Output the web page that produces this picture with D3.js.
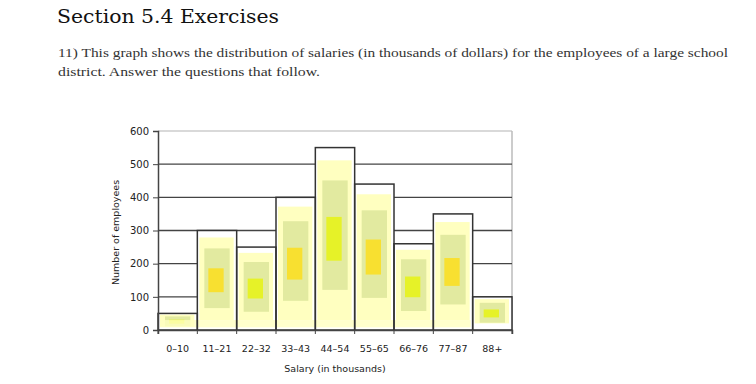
<!DOCTYPE html>
<html><head><meta charset="utf-8">
<script src="https://cdn.jsdelivr.net/npm/d3@7"></script>
<style>body{margin:0;background:#fff}svg{display:block}</style>
</head><body>
<svg id="c" width="756" height="384"></svg>
<script>
const categories = ["0–10","11–21","22–32","33–43","44–54","55–65","66–76","77–87","88+"];
const employees = [50,300,250,400,550,440,260,350,100];
const yTicks = [0,100,200,300,400,500,600];
const titleText = "Section 5.4 Exercises";
const questionLines = ["11) This graph shows the distribution of salaries (in thousands of dollars) for the employees of a large school",
  "district.  Answer the questions that follow."];
const xTitle = "Salary (in thousands)";
const yTitle = "Number of employees";

const svg = d3.select("#c");
svg.append("text").attr("x",57).attr("y",23).attr("font-family","'DejaVu Serif',serif")
  .attr("font-size",19).attr("fill","#111").attr("textLength",222).attr("lengthAdjust","spacingAndGlyphs").text(titleText);
const lineLens = [670, 262];
questionLines.forEach((t,i)=>{
  svg.append("text").attr("x",58).attr("y",57+i*19).attr("font-family","'Liberation Serif',serif")
    .attr("font-size",13.2).attr("fill","#333").attr("textLength", lineLens[i])
    .attr("lengthAdjust","spacingAndGlyphs").text(t);
});

const m = {l:158, r:512, t:131, b:330};
const x = d3.scaleBand().domain(categories).range([m.l,m.r]).padding(0);
const y = d3.scaleLinear().domain([0,600]).range([m.b,m.t]);
const g = svg.append("g");

g.append("line").attr("x1",m.l).attr("x2",m.r).attr("y1",y(600)).attr("y2",y(600)).attr("stroke","#ccc").attr("stroke-width",1.5);
g.append("line").attr("x1",m.r).attr("x2",m.r).attr("y1",y(600)).attr("y2",m.b).attr("stroke","#bbb").attr("stroke-width",1.5);
g.selectAll(".grid").data(yTicks.filter(d=>d>0&&d<600)).join("line")
  .attr("x1",m.l).attr("x2",m.r).attr("y1",d=>y(d)).attr("y2",d=>y(d))
  .attr("stroke","#444").attr("stroke-width",1.3);

g.selectAll(".bar").data(employees).join("rect")
  .attr("x",(d,i)=>x(categories[i])).attr("width",x.bandwidth())
  .attr("y",d=>y(d)).attr("height",d=>m.b-y(d))
  .attr("fill","#fff");

const blobs = g.append("g");
employees.forEach((v,i)=>{
  const x0 = x(categories[i]), w = x.bandwidth();
  blobs.append("rect").attr("x",x0+2).attr("width",w-5).attr("y",y(v*0.93)).attr("height",y(Math.min(30,v*0.2))-y(v*0.93)).attr("fill","#ffffc0");
  blobs.append("rect").attr("x",x0+7).attr("width",w-14).attr("y",y(v*0.82)).attr("height",y(v*0.22)-y(v*0.82)).attr("fill","#e2eaa0");
  blobs.append("rect").attr("x",x0+11).attr("width",w-24).attr("y",y(v*0.62)).attr("height",y(v*0.38)-y(v*0.62))
    .attr("fill", i%2? "#f8e030" : "#e6f228");
});
blobs.append("rect").attr("x",m.l+2).attr("width",x(categories[8])-m.l-4).attr("y",y(30)).attr("height",y(8)-y(30)).attr("fill","#ffffc0").attr("opacity",0.8);

g.selectAll(".bo").data(employees).join("rect")
  .attr("x",(d,i)=>x(categories[i])).attr("width",x.bandwidth())
  .attr("y",d=>y(d)).attr("height",d=>m.b-y(d))
  .attr("fill","none").attr("stroke","#333").attr("stroke-width",1.5);

const ya = d3.axisLeft(y).tickValues(yTicks).tickSize(5).tickPadding(4);
const yg = svg.append("g").attr("transform",`translate(${m.l},0)`).call(ya);
yg.select(".domain").attr("stroke","#444").attr("stroke-width",1.5);
yg.selectAll("text").attr("font-family","'DejaVu Sans',sans-serif").attr("font-size",10).attr("fill","#222");
yg.selectAll("line").attr("stroke","#444");

const xa = d3.axisBottom(x).tickSize(4).tickPadding(11);
const xg = svg.append("g").attr("transform",`translate(0,${m.b})`).call(xa);
xg.select(".domain").attr("stroke","#444").attr("stroke-width",1.5);
xg.selectAll(".tick line").remove();
xg.selectAll("text").attr("font-family","'DejaVu Sans',sans-serif").attr("font-size",9.5).attr("fill","#222");
g.selectAll(".bt").data(d3.range(categories.length+1)).join("line")
  .attr("x1",i=>m.l+i*x.bandwidth()).attr("x2",i=>m.l+i*x.bandwidth())
  .attr("y1",m.b).attr("y2",m.b+4).attr("stroke","#444");

svg.append("text").attr("x",(m.l+m.r)/2).attr("y",372).attr("text-anchor","middle")
  .attr("font-family","'DejaVu Sans',sans-serif").attr("font-size",9.5).attr("fill","#222").text(xTitle);
svg.append("text").attr("transform",`translate(119,${(m.t+m.b)/2+2}) rotate(-90)`).attr("text-anchor","middle")
  .attr("font-family","'DejaVu Sans',sans-serif").attr("font-size",9.5).attr("fill","#222").text(yTitle);
</script>
</body></html>
